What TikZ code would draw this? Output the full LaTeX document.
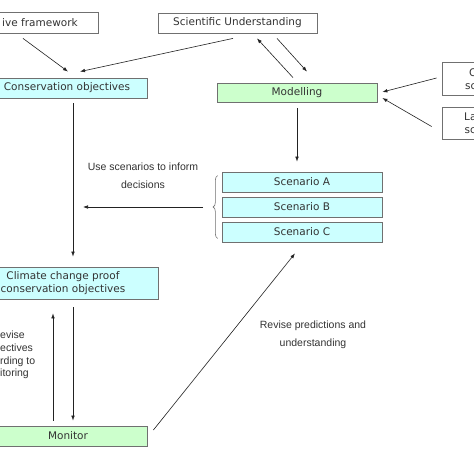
\documentclass[tikz,border=0pt]{standalone}
\usepackage{fontspec}
\setmainfont{DejaVu Sans}
\newfontfamily\labfont{Liberation Sans}
\usetikzlibrary{decorations.pathreplacing,arrows.meta}
\definecolor{boxcyan}{HTML}{CCFFFF}
\definecolor{boxgreen}{HTML}{CCFFCC}
\definecolor{boxline}{HTML}{707070}
\definecolor{txt}{HTML}{333333}
\definecolor{arr}{HTML}{222222}
\tikzset{
  box/.style={draw=boxline, line width=0.8pt, inner sep=0pt, minimum height=20pt},
  cyanbox/.style={box, fill=boxcyan},
  greenbox/.style={box, fill=boxgreen},
  whitebox/.style={box, fill=white},
  btext/.style={font=\fontsize{10.5}{12.5}\selectfont, text=txt, inner sep=0pt, align=center},
  ltext/.style={font=\labfont\fontsize{10.5}{17.5}\selectfont, text=txt, inner sep=0pt, align=center},
  conn/.style={draw=arr, line width=0.6pt, -{Latex[length=5pt,width=3.6pt]}},
}
\begin{document}
\begin{tikzpicture}[x=1pt,y=-1pt]
\useasboundingbox (0,0) rectangle (474,474);
\clip (0,0) rectangle (474,474);
\fill[white] (0,0) rectangle (474,474);
% boxes
\node[whitebox, minimum width=158pt, minimum height=21pt] (fw) at (19,22.5) {};
\node[btext, anchor=west] (fwt) at (2,22.5) {ive framework};
\node[whitebox, minimum width=159pt] (su) at (237.5,23) {};
\node[btext] (sut) at (237.5,23) {Scientific Understanding};
\node[cyanbox, minimum width=160pt] (co) at (67,88) {};
\node[btext] (cot) at (67,88) {Conservation objectives};
\node[greenbox, minimum width=160pt, minimum height=19pt] (mod) at (297,92.5) {};
\node[btext] (modt) at (297,92.5) {Modelling};
\node[whitebox, minimum width=80pt, minimum height=33pt] (clim) at (482,79) {};
\node[btext, anchor=west] (climt) at (465,79) {\hspace*{4pt}C\\sc};
\node[whitebox, minimum width=80pt, minimum height=32pt] (land) at (482,123) {};
\node[btext, anchor=west] (landt) at (464,123) {La\\sc};
\node[cyanbox, minimum width=160pt] (sa) at (302,182) {};
\node[btext] (sat) at (302,182) {Scenario A};
\node[cyanbox, minimum width=160pt] (sb) at (302,207) {};
\node[btext] (sbt) at (302,207) {Scenario B};
\node[cyanbox, minimum width=160pt] (sc) at (302,232) {};
\node[btext] (sct) at (302,232) {Scenario C};
\node[cyanbox, minimum width=190pt, minimum height=32pt] (cc) at (63,283) {};
\node[btext] (cct) at (63,283) {Climate change proof\\conservation objectives};
\node[greenbox, minimum width=158pt] (mon) at (68,436) {};
\node[btext] (mont) at (68,436) {Monitor};
% labels
\node[ltext] (l1) at (143,175.5) {Use scenarios to inform\\decisions};
\node[ltext] (l2) at (313,335) {Revise predictions and\\understanding};
\node[ltext, align=left, anchor=west, font=\labfont\fontsize{10.5}{12.6}\selectfont] (l3) at (0,355) {evise\\ectives\\rding to\\itoring};
% brace
\draw[draw=boxline, line width=0.6pt, decorate, decoration={brace, amplitude=4.5pt}]
  ([xshift=-4pt,yshift=4pt]sc.south west) -- ([xshift=-4pt,yshift=-4pt]sa.north west);
\coordinate (bt) at (203,207);
\coordinate (ue) at (83,207);
% connectors
\draw[conn] ([xshift=4pt,yshift=-5pt]fw.south) -- ([xshift=1pt,yshift=6pt]co.north);
\draw[conn] ([xshift=-4.5pt,yshift=-5pt]su.south) -- ([xshift=13pt,yshift=6pt]co.north);
\draw[conn] ([xshift=-4pt,yshift=5pt]mod.north) -- ([xshift=19.5pt,yshift=-5pt]su.south);
\draw[conn] ([xshift=39.5pt,yshift=-5pt]su.south) -- ([xshift=10pt,yshift=11pt]mod.north);
\draw[conn] ([xshift=-5pt,yshift=1pt]clim.west) -- ([xshift=5pt,yshift=0.5pt]mod.east);
\draw[conn] ([xshift=-10pt,yshift=-3.5pt]land.west) -- ([xshift=5pt,yshift=-5.5pt]mod.east);
\draw[conn] ([yshift=-6pt]mod.south) -- ([xshift=-5pt,yshift=10pt]sa.north);
\draw[conn] (bt) -- (ue);
\draw[conn] ([xshift=6pt,yshift=-5pt]co.south) -- ([xshift=10pt,yshift=10pt]cc.north);
\draw[conn] ([xshift=-15pt,yshift=5pt]mon.north) -- ([xshift=-10pt,yshift=-14pt]cc.south);
\draw[conn] ([xshift=10pt,yshift=-8pt]cc.south) -- ([xshift=5pt,yshift=5pt]mon.north);
\draw[conn] ([xshift=6pt,yshift=6pt]mon.east) -- ([xshift=-7pt,yshift=-11pt]sc.south);
\end{tikzpicture}
\end{document}
